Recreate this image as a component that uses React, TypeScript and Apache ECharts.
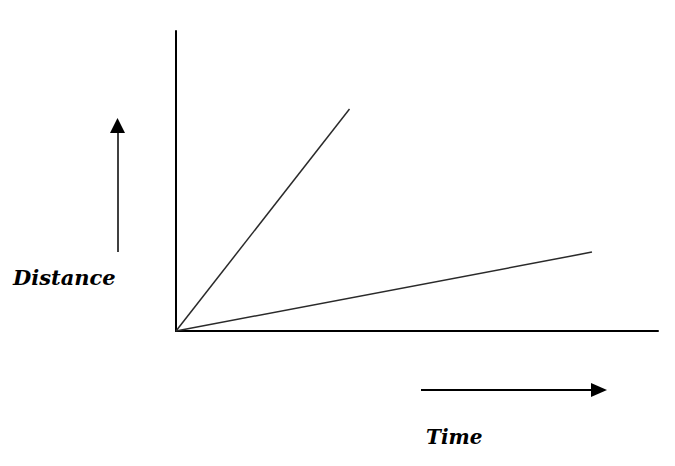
import React, { useEffect, useRef } from "react";
import * as echarts from "echarts";

const fastLine: [number, number][] = [
  [0, 0],
  [36, 74],
];
const slowLine: [number, number][] = [
  [0, 0],
  [86.3, 26.3],
];
const yLabel = "Distance";
const xLabel = "Time";

export default function App() {
  const ref = useRef<HTMLDivElement>(null);
  useEffect(() => {
    if (!ref.current) return;
    const chart = echarts.init(ref.current, undefined, { renderer: "svg" });
    const font = "'DejaVu Serif', serif";
    chart.setOption({
      animation: false,
      backgroundColor: "#ffffff",
      grid: { left: 176, top: 31, right: 17, bottom: 135 },
      xAxis: {
        type: "value",
        min: 0,
        max: 100,
        axisLine: { show: true, lineStyle: { color: "#000", width: 2 } },
        axisTick: { show: false },
        axisLabel: { show: false },
        splitLine: { show: false },
      },
      yAxis: {
        type: "value",
        min: 0,
        max: 100,
        axisLine: { show: true, lineStyle: { color: "#000", width: 2 } },
        axisTick: { show: false },
        axisLabel: { show: false },
        splitLine: { show: false },
      },
      series: [
        {
          type: "line",
          data: fastLine,
          showSymbol: false,
          lineStyle: { color: "#2a2a2a", width: 1.5 },
        },
        {
          type: "line",
          data: slowLine,
          showSymbol: false,
          lineStyle: { color: "#2a2a2a", width: 1.5 },
        },
      ],
      graphic: [
        {
          type: "line",
          shape: { x1: 118, y1: 130, x2: 118, y2: 252 },
          style: { stroke: "#000", lineWidth: 1.5 },
        },
        {
          type: "polygon",
          shape: { points: [[117.5, 118], [110, 133], [125, 133]] },
          style: { fill: "#000" },
        },
        {
          type: "line",
          shape: { x1: 421, y1: 390, x2: 594, y2: 390 },
          style: { stroke: "#000", lineWidth: 2 },
        },
        {
          type: "polygon",
          shape: { points: [[607, 390], [591, 383], [591, 397]] },
          style: { fill: "#000" },
        },
        {
          type: "text",
          x: 13,
          y: 288,
          style: {
            text: yLabel,
            font: `italic bold 21px ${font}`,
            fill: "#000",
            verticalAlign: "bottom",
          },
        },
        {
          type: "text",
          x: 426,
          y: 447,
          style: {
            text: xLabel,
            font: `italic bold 20px ${font}`,
            fill: "#000",
            verticalAlign: "bottom",
          },
        },
      ],
    });
    return () => chart.dispose();
  }, []);
  return (
    <div
      ref={ref}
      style={{ position: "absolute", left: 0, top: 0, width: 675, height: 466 }}
    />
  );
}
